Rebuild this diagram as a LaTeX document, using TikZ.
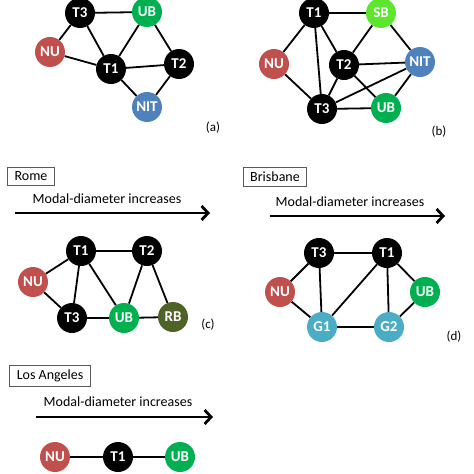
\documentclass[tikz,border=0pt]{standalone}
\usepackage{fontspec}
\setmainfont{Carlito}
\usetikzlibrary{arrows.meta,backgrounds}
\definecolor{cnu}{HTML}{C0504D}
\definecolor{cub}{HTML}{00B050}
\definecolor{csb}{HTML}{5CE62E}
\definecolor{cnit}{HTML}{4F81BD}
\definecolor{crb}{HTML}{4F6228}
\definecolor{cg}{HTML}{4BACC6}
\tikzset{
  vtx/.style={circle,minimum size=30pt,inner sep=0pt,text=white,font=\bfseries\fontsize{15}{15}\selectfont},
  tnode/.style={vtx,fill=black},
  edge/.style={line width=1.8pt,black},
  citybox/.style={draw=gray!70!black,line width=0.8pt,inner xsep=7pt,inner ysep=4.5pt,font=\fontsize{14}{14}\selectfont},
  caption/.style={font=\fontsize{14}{14}\selectfont},
  incr/.style={line width=2.8pt,-{Straight Barb[length=6.5pt,width=14pt,line width=2.8pt]}},
  lbl/.style={font=\fontsize{13}{13}\selectfont}
}
\begin{document}
\begin{tikzpicture}[x=1pt,y=-1pt]
\useasboundingbox (0,0) rectangle (474,474);
% ---- (a)
\node[tnode] (aT3) at (80,13) {T3};
\node[vtx,fill=cub] (aUB) at (147,12) {UB};
\node[vtx,fill=cnu] (aNU) at (50,52) {NU};
\node[tnode] (aT1) at (111,69) {T1};
\node[tnode] (aT2) at (179,64) {T2};
\node[vtx,fill=cnit] (aNIT) at (147,107) {NIT};
\node[lbl] (alab) at (213,128) {(a)};
\begin{pgfonlayer}{background}
\draw[edge] (aT3)--(aUB) (aT3)--(aNU) (aT3)--(aT1) (aUB)--(aT1) (aUB)--(aT2)
  (aNU)--(aT1) (aT1)--(aT2) (aT1)--(aNIT) (aT2)--(aNIT);
\end{pgfonlayer}
% ---- (b)
\node[tnode] (bT1) at (314,13) {T1};
\node[vtx,fill=csb] (bSB) at (381,13) {SB};
\node[vtx,fill=cnu] (bNU) at (274,64) {NU};
\node[tnode] (bT2) at (344,65) {T2};
\node[vtx,fill=cnit] (bNIT) at (420,62) {NIT};
\node[tnode] (bT3) at (322,109) {T3};
\node[vtx,fill=cub] (bUB) at (386,108) {UB};
\node[lbl] (blab) at (439,132) {(b)};
\begin{pgfonlayer}{background}
\draw[edge] (bT1)--(bSB) (bT1)--(bNU) (bT1)--(bT2) (bT1)--(bT3) (bSB)--(bT2)
  (bSB)--(bNIT) (bNU)--(bT3) (bT2)--(bNIT) (bT2)--(bT3) (bT2)--(bUB)
  (bT3)--(bNIT) (bT3)--(bUB) (bUB)--(bNIT);
\end{pgfonlayer}
% ---- (c) Rome
\node[citybox] (rbox) at (31,176) {Rome};
\node[caption] (rcap) at (107,199) {Modal-diameter increases};
\coordinate (rs) at (15,213);
\coordinate (re) at (210,213);
\draw[incr] (rs)--(re);
\node[tnode] (cT1) at (81,251) {T1};
\node[tnode] (cT2) at (147,251) {T2};
\node[vtx,fill=cnu] (cNU) at (33,282) {NU};
\node[tnode] (cT3) at (72,318) {T3};
\node[vtx,fill=cub] (cUB) at (124,318) {UB};
\node[vtx,fill=crb] (cRB) at (173,317) {RB};
\node[lbl] (clab) at (208,325) {(c)};
\begin{pgfonlayer}{background}
\draw[edge] (cNU)--(cT1) (cNU)--(cT3) (cT1)--(cT2) (cT1)--(cT3) (cT1)--(cUB)
  (cT2)--(cUB) (cT2)--(cRB) (cT3)--(cUB) (cUB)--(cRB);
\end{pgfonlayer}
% ---- (d) Brisbane
\node[citybox] (bbox) at (275,177) {Brisbane};
\node[caption] (bcap) at (350,202) {Modal-diameter increases};
\coordinate (bs) at (270,216);
\coordinate (be) at (445,216);
\draw[incr] (bs)--(be);
\node[tnode] (dT3) at (319,253) {T3};
\node[tnode] (dT1) at (387,253) {T1};
\node[vtx,fill=cnu] (dNU) at (280,292) {NU};
\node[vtx,fill=cub] (dUB) at (425,292) {UB};
\node[vtx,fill=cg] (dG1) at (322,327) {G1};
\node[vtx,fill=cg] (dG2) at (389,327) {G2};
\node[lbl] (dlab) at (454,337) {(d)};
\begin{pgfonlayer}{background}
\draw[edge] (dT3)--(dNU) (dT3)--(dT1) (dT3)--(dG1) (dT1)--(dG1) (dT1)--(dG2)
  (dT1)--(dUB) (dNU)--(dG1) (dG1)--(dG2) (dG2)--(dUB);
\end{pgfonlayer}
% ---- Los Angeles
\node[citybox] (lbox) at (50,375.5) {Los Angeles};
\node[caption] (lcap) at (118,402) {Modal-diameter increases};
\coordinate (ls) at (36,417);
\coordinate (le) at (213,417);
\draw[incr] (ls)--(le);
\node[vtx,fill=cnu] (eNU) at (55,457) {NU};
\node[tnode] (eT1) at (118,457) {T1};
\node[vtx,fill=cub] (eUB) at (180,457) {UB};
\begin{pgfonlayer}{background}
\draw[edge] (eNU)--(eT1) (eT1)--(eUB);
\end{pgfonlayer}
\end{tikzpicture}
\end{document}
